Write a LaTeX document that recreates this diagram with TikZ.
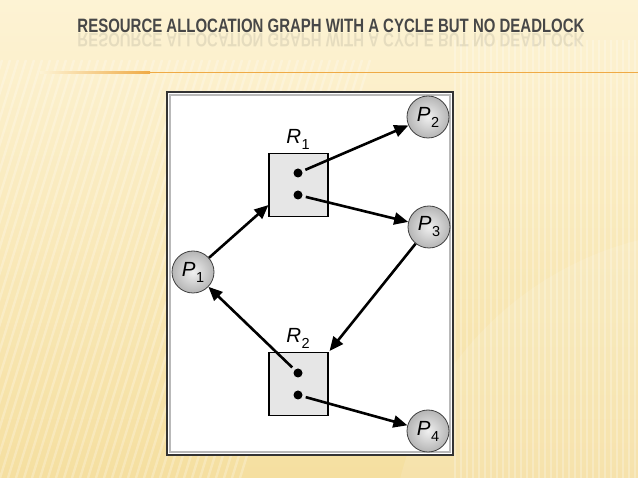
\documentclass[tikz,border=0pt]{standalone}
\usepackage{fontspec}
\setmainfont{Liberation Sans}
\usetikzlibrary{arrows.meta,calc}
\definecolor{bgtop}{HTML}{FDF3D4}
\definecolor{bgbot}{HTML}{F5DFA0}
\definecolor{titlecol}{HTML}{474747}
\definecolor{rulecol}{HTML}{EFAA45}
\definecolor{boxfill}{HTML}{E6E6E6}
\newcommand\plab[2]{\fontsize{20.5}{20.5}\selectfont\textit{#1}\kern0.5pt\raisebox{-6pt}{\fontsize{14.5}{14.5}\selectfont #2}}
\begin{document}
\begin{tikzpicture}[x=1pt,y=-1pt,
  proc/.style={circle,minimum size=42pt,inner sep=0pt,draw=gray!50!black,line width=0.8pt,
    inner color=gray!12,outer color=gray!58},
  res/.style={rectangle,minimum width=59pt,minimum height=63pt,inner sep=0pt,draw=black,line width=1.1pt,fill=boxfill},
  dotnode/.style={circle,fill=black,minimum size=9pt,inner sep=0pt},
  edge/.style={line width=2.6pt,-{Triangle[length=14pt,width=12pt]}},
  rlab/.style={inner sep=0pt}]
\useasboundingbox (0,0) rectangle (638,478);
% background
\shade[top color=bgtop,bottom color=bgbot] (0,0) rectangle (638,478);
\begin{scope}
  \clip (0,0) rectangle (638,478);
  \foreach \i in {-200,-192,...,240}{
    \draw[white,opacity=0.25,line width=2.4pt] (\i,478) -- (\i+130,60);
  }
  \foreach \i in {455,461,...,640}{
    \draw[white,opacity=0.25,line width=2.4pt] (\i,40) -- (\i,478);
  }
  \fill[white,opacity=0.12] (720,560) circle (330);
\end{scope}
% title
\node[titlecol,anchor=base,inner sep=0pt] (title) at (331,33)
  {\resizebox{507pt}{13.5pt}{\bfseries RESOURCE ALLOCATION GRAPH WITH A CYCLE BUT NO DEADLOCK}};
\node[titlecol,anchor=base,inner sep=0pt,yscale=-1,opacity=0.12] (titlerefl) at (331,33.5)
  {\resizebox{507pt}{13.5pt}{\bfseries RESOURCE ALLOCATION GRAPH WITH A CYCLE BUT NO DEADLOCK}};
% rule
\shade[left color=bgtop,right color=rulecol] (40,71.8) rectangle (150,73.4);
\fill[rulecol] (150,71.8) rectangle (638,73.4);
% frame
\draw[line width=2.4pt,draw=black!80,fill=white] (167,92) rectangle (453,455);
\draw[line width=1.6pt,draw=gray!55] (170,95) rectangle (450,452);
% resources
\node[res] (R1) at (298.5,185) {};
\node[res] (R2) at (298.5,384) {};
\node[dotnode] (r1a) at (298,173) {};
\node[dotnode] (r1b) at (298,195) {};
\node[dotnode] (r2a) at (298,373) {};
\node[dotnode] (r2b) at (298,395) {};
\node[rlab] (R1l) at (298,139) {\plab{R}{1}};
\node[rlab] (R2l) at (298,338) {\plab{R}{2}};
% processes
\node[proc] (P1) at (193,272) {\plab{P}{1}};
\node[proc] (P2) at (428,117) {\plab{P}{2}};
\node[proc] (P3) at (429,227) {\plab{P}{3}};
\node[proc] (P4) at (428,431) {\plab{P}{4}};
% edges
\coordinate (R1in) at ([yshift=12pt]R1.south west);
\draw[edge] (P1) -- (R1in);
\draw[edge,shorten <=8pt] (r1a.center) -- (P2);
\draw[edge,shorten <=8pt] (r1b.center) -- (P3);
\draw[edge] (P3) -- ([xshift=1pt,yshift=1pt]R2.north east);
\draw[edge,shorten <=8pt] (r2a.center) -- (P1);
\draw[edge,shorten <=8pt] (r2b.center) -- (P4);
\end{tikzpicture}
\end{document}
